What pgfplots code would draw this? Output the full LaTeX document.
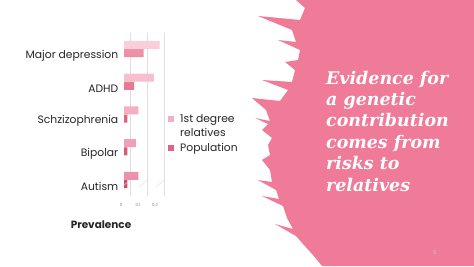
\documentclass[border=0pt]{standalone}
\usepackage{pgfplots}
\pgfplotsset{compat=1.18}
\usepackage{fontspec}
\setmainfont{Poppins}
\newfontfamily\titlefont{DejaVu Serif}
\definecolor{slidepink}{HTML}{EF7B98}
\definecolor{relA}{HTML}{F6AEC2}
\definecolor{relTop}{HTML}{FAD0DC}
\definecolor{relBot}{HTML}{EC8FA9}
\definecolor{popA}{HTML}{E0647F}
\definecolor{popTop}{HTML}{EE93AA}
\definecolor{popBot}{HTML}{C84F6C}
\definecolor{labelgray}{HTML}{262626}
\definecolor{pagepink}{HTML}{F7B8C8}
\begin{document}
\begin{tikzpicture}[x=1bp,y=1bp]
\path[use as bounding box, fill=white] (0,0) rectangle (474,266);
\fill[slidepink] (474,266) -- (474,0) -- (322,0) -- (313,11) -- (303,22) -- (296,30)
 -- (275,42) -- (293,37) -- (287,48) -- (283,60) -- (262,70) -- (279,67) -- (276,76)
 -- (258,86) -- (272,84) -- (270,96) -- (262,106) -- (270,111) -- (268,121) -- (272,128)
 -- (262,136) -- (268,142) -- (255,148) -- (270,145) -- (266,156) -- (252,168) -- (280,165)
 -- (288,176) -- (262,186) -- (292,184) -- (295,196) -- (285,204) -- (298,206) -- (300,216)
 -- (278,226) -- (296,224) -- (292,236) -- (258,250) -- (300,246) -- (305,258) -- (296,266) -- cycle;
\coordinate (AX) at (124,69.6);
\begin{axis}[
  at={(AX)}, anchor=south west, scale only axis,
  width=37.4bp, height=163.75bp,
  xbar, xmin=0, xmax=0.22, ymin=-0.5, ymax=4.5,
  ytick={0,1,2,3,4},
  yticklabels={Autism,Bipolar,Schzizophrenia,ADHD,Major depression},
  xtick={0,0.1,0.2},
  xticklabels={0,0.1,0.2},
  axis line style={draw=none}, major tick style={draw=none},
  xmajorgrids, major grid style={draw=gray!25, xshift=6bp},
  yticklabel style={font=\fontsize{10.8}{13}\selectfont, text=labelgray, yshift=-6.5bp, xshift=2bp},
  xticklabel style={font=\fontsize{4}{5}\selectfont, text=gray, xshift=-3bp, yshift=-4bp},
  bar width=8bp,
  clip=false,
]
\addplot[draw=none, top color=relTop, bottom color=relBot, middle color=relA, bar shift=4.2bp]
  coordinates {(0.21,4) (0.175,3) (0.085,2) (0.07,1) (0.085,0)};
\addplot[draw=none, top color=popTop, bottom color=popBot, middle color=popA, bar shift=-4.2bp]
  coordinates {(0.115,4) (0.06,3) (0.02,2) (0.02,1) (0.02,0)};
\draw[gray!25] (axis cs:0,-0.5) ++(6bp,0) -- ++(-8bp,-7bp);
\draw[gray!25] (axis cs:0.1,-0.5) ++(6bp,0) -- ++(-8bp,-7bp);
\draw[gray!25] (axis cs:0.2,-0.5) ++(6bp,0) -- ++(-8bp,-7bp);
\end{axis}
% legend
\fill[relA] (168,144) rectangle (174,150);
\fill[popA] (168,115) rectangle (174,121);
\begin{scope}[every node/.style={anchor=base west, inner sep=0pt, text=labelgray, font=\fontsize{10.8}{13}\selectfont}]
\node at (180,143.5) {1st degree};
\node at (180,129.5) {relatives};
\node at (180,114.5) {Population};
\end{scope}
\node[font=\bfseries\fontsize{10.5}{12}\selectfont, text=labelgray] at (101,41) {Prevalence};
\begin{scope}[every node/.style={anchor=base west, inner sep=0pt, text=white,
   font=\titlefont\bfseries\itshape\fontsize{17.5}{20}\selectfont}]
\node at (326,182) {Evidence for};
\node at (326,160.6) {a genetic};
\node at (326,139.2) {contribution};
\node at (326,117.8) {comes from};
\node at (326,96.4) {risks to};
\node at (326,75) {relatives};
\end{scope}
\node[text=pagepink, font=\fontsize{5}{6}\selectfont] at (435,13) {5};
\end{tikzpicture}
\end{document}
